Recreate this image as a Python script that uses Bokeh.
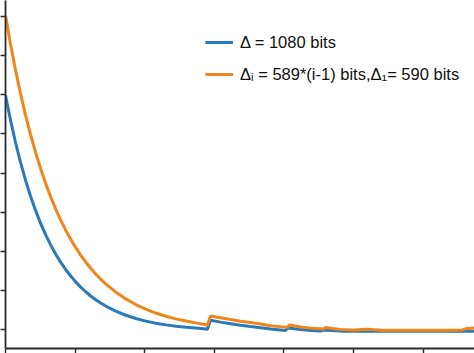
from bokeh.plotting import figure
from bokeh.models import Range1d, FixedTicker, Legend, LegendItem
from bokeh.embed import file_html
from bokeh.resources import INLINE

# ---- data ----
blue_x = [0, 7.2, 14.4, 21.6, 28.8, 36, 43.2, 50.4, 57.6, 64.8, 72, 79.2, 86.4, 93.6,
          100.8, 108, 115.2, 122.4, 129.6, 136.8, 144, 158.4, 172.8, 187.2, 201.6,
          216, 230.4, 244.8, 259.2, 273.6, 288, 290.2,
          294.5, 308.9, 323.3, 337.7, 352, 366.4, 380.7, 395, 402.3,
          406, 423.9, 440, 452.6, 456.9, 481.3, 520, 560, 600, 640, 673.9]
blue_y = [5.99, 5.351, 4.781, 4.272, 3.817, 3.409, 3.045, 2.719, 2.427, 2.166, 1.932,
          1.723, 1.536, 1.369, 1.219, 1.085, 0.966, 0.858, 0.762, 0.677, 0.600, 0.470,
          0.366, 0.283, 0.216, 0.163, 0.120, 0.086, 0.059, 0.037, 0.015, 0.01,
          0.24, 0.19, 0.15, 0.11, 0.076, 0.045, 0.013, -0.01, -0.025,
          0.04, 0.0, -0.025, -0.04, -0.013, -0.04, -0.04, -0.04, -0.04, -0.04, -0.04]

orange_x = [0, 7.2, 14.4, 21.6, 28.8, 36, 43.2, 50.4, 57.6, 64.8, 72, 79.2, 86.4, 93.6,
            100.8, 108, 115.2, 122.4, 129.6, 136.8, 144, 158.4, 172.8, 187.2, 201.6,
            216, 230.4, 244.8, 259.2, 273.6, 288, 290.2,
            294.5, 308.9, 323.3, 337.7, 352, 366.4, 380.7, 395, 405.2,
            408, 423.9, 440, 456.9, 459.8, 470, 481.3, 500, 520, 540, 560, 580, 600,
            620, 640, 656.6, 662.4, 673.9]
orange_y = [8.025, 7.297, 6.634, 6.030, 5.482, 4.983, 4.529, 4.115, 3.739, 3.398, 3.087,
            2.803, 2.546, 2.311, 2.098, 1.904, 1.728, 1.567, 1.421, 1.289, 1.168, 0.958,
            0.784, 0.640, 0.521, 0.422, 0.341, 0.274, 0.218, 0.171, 0.125, 0.11,
            0.344, 0.30, 0.255, 0.215, 0.178, 0.14, 0.10, 0.075, 0.059,
            0.115, 0.064, 0.035, 0.013, 0.05, 0.025, 0.0, -0.01, 0.005, -0.015, -0.02,
            -0.02, -0.015, -0.02, -0.015, -0.01, 0.025, 0.04]

x_ticks = [0, 100, 200, 300, 400, 500, 600]
y_ticks = [0, 1, 2, 3, 4, 5, 6, 7, 8]

label_blue = "Δ = 1080 bits"
label_orange = "Δᵢ = 589*(i-1) bits,Δ₁= 590 bits"

BLUE = "#2a79b8"
ORANGE = "#f0861a"
AXIS = "#2b2b2b"

p = figure(width=474, height=353, output_backend="svg", toolbar_location=None,
           x_range=Range1d(0, 673.9), y_range=Range1d(-0.484, 8.41),
           min_border=0, min_border_left=0, min_border_right=0,
           min_border_top=0, min_border_bottom=0)
p.outline_line_color = None
p.xgrid.visible = False
p.ygrid.visible = False
p.background_fill_color = "white"
p.border_fill_color = "white"

for ax, ticks in ((p.xaxis[0], x_ticks), (p.yaxis[0], y_ticks)):
    ax.ticker = FixedTicker(ticks=ticks)
    ax.major_label_overrides = {t: "" for t in ticks}
    ax.major_label_text_font_size = "1px"
    ax.major_label_standoff = 0
    ax.major_tick_out = 5
    ax.major_tick_in = 0
    ax.minor_tick_out = 0
    ax.minor_tick_in = 0
    ax.axis_line_color = AXIS
    ax.axis_line_width = 1.8
    ax.major_tick_line_color = AXIS
    ax.major_tick_line_width = 1.4

r_blue = p.line(blue_x, blue_y, line_color=BLUE, line_width=3)
r_orange = p.line(orange_x, orange_y, line_color=ORANGE, line_width=3)

legend = Legend(items=[LegendItem(label=label_blue, renderers=[r_blue]),
                       LegendItem(label=label_orange, renderers=[r_orange])],
                location=(200, 264), orientation="vertical")
legend.border_line_color = None
legend.background_fill_alpha = 0
legend.padding = 0
legend.margin = 0
legend.spacing = 12
legend.glyph_width = 28
legend.glyph_height = 20
legend.label_height = 20
legend.label_standoff = 7
legend.label_text_font = "Liberation Sans"
legend.label_text_font_size = "16.5px"
legend.label_text_color = "#111111"
p.add_layout(legend, "center")

open("out.html", "w").write(file_html(p, INLINE))
